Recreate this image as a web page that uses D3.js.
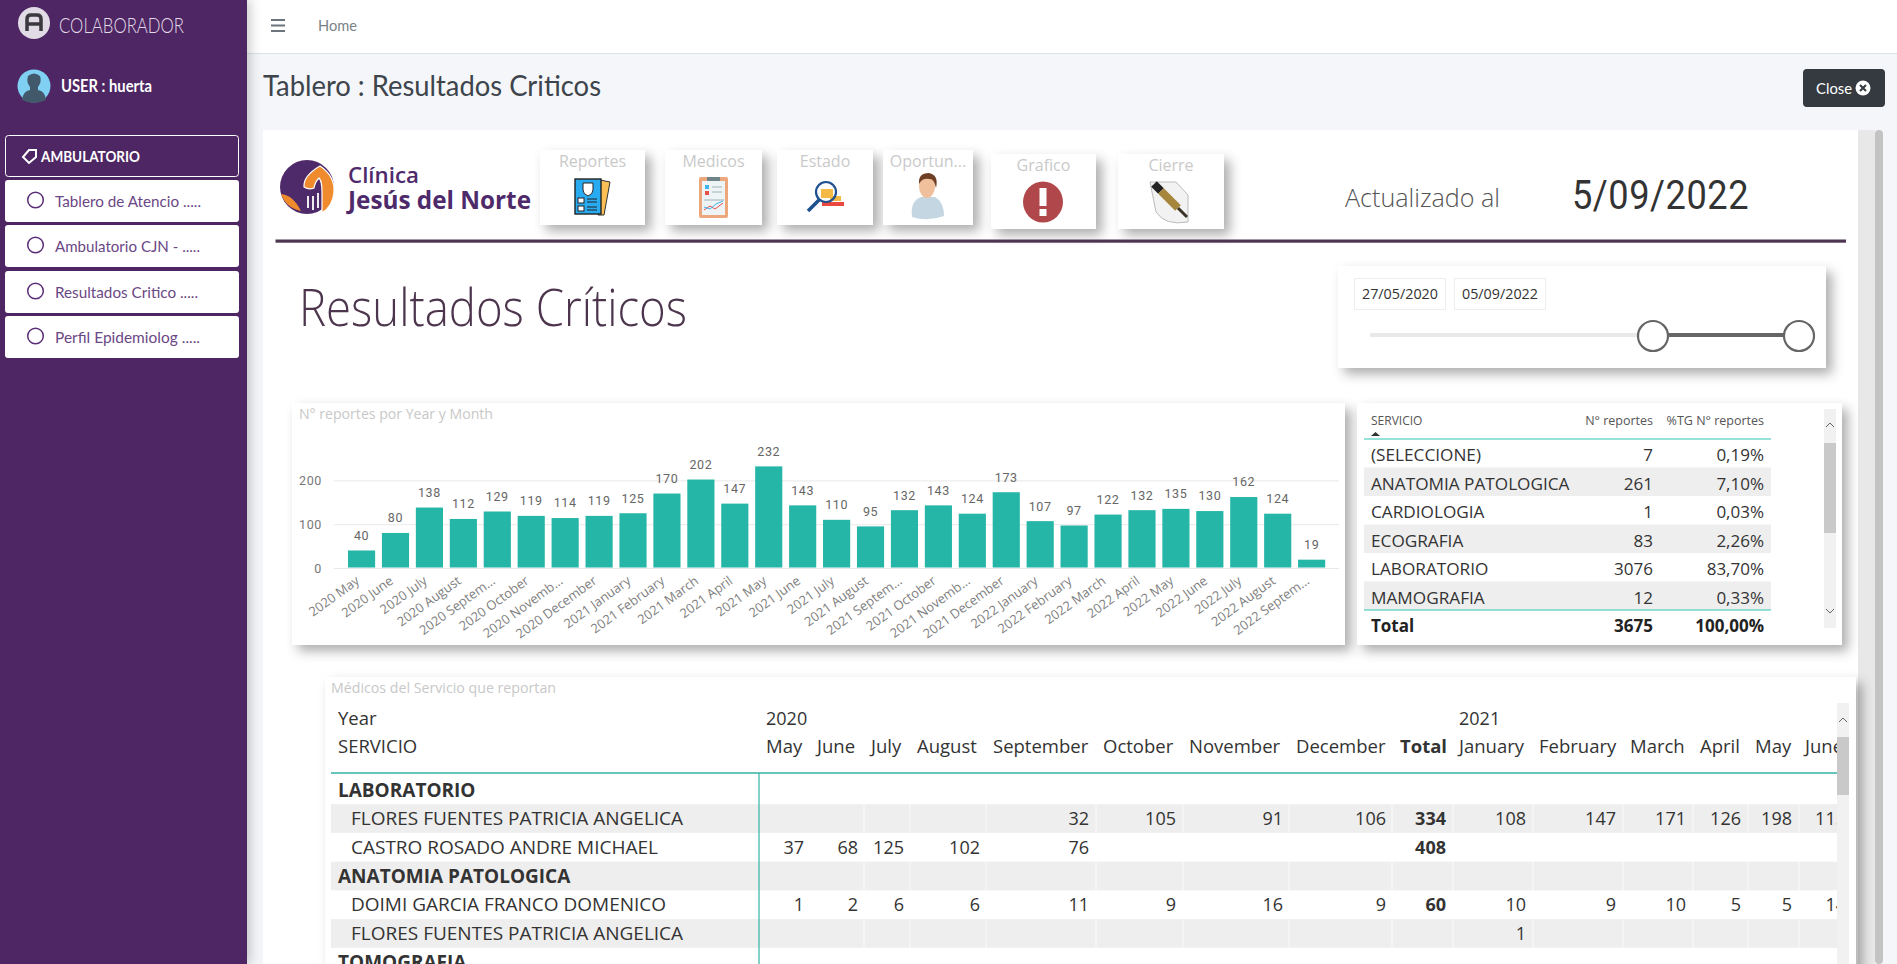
<!DOCTYPE html>
<html>
<head>
<meta charset="utf-8">
<title>Tablero : Resultados Criticos</title>
<script src="https://cdn.jsdelivr.net/npm/d3@7"></script>
<style>
    html, body { margin: 0; padding: 0; background: #f4f6f9; overflow: hidden; }
    svg { display: block; }
    text { font-family: "Open Sans", sans-serif; }
    .side { font-family: Lato, sans-serif; }
    .din { font-family: Roboto, sans-serif; letter-spacing: 0.6px; }
    .axis-y path, .axis-x path, .axis-x line, .axis-y line { stroke: #e9e9e9; }
    .axis-x line { display: none; }
</style>
</head>
<body>
<svg id="page" width="1897" height="964"></svg>
<script>
// bar chart
let monthLabels = ["2020 May", "2020 June", "2020 July", "2020 August", "2020 Septem...", "2020 October",
    "2020 Novemb...", "2020 December", "2021 January", "2021 February", "2021 March", "2021 April",
    "2021 May", "2021 June", "2021 July", "2021 August", "2021 Septem...", "2021 October",
    "2021 Novemb...", "2021 December", "2022 January", "2022 February", "2022 March", "2022 April",
    "2022 May", "2022 June", "2022 July", "2022 August", "2022 Septem..."];
let monthReports = [40, 80, 138, 112, 129, 119, 114, 119, 125, 170, 202, 147, 232, 143, 110, 95, 132, 143,
    124, 173, 107, 97, 122, 132, 135, 130, 162, 124, 19];
let yTicks = [0, 100, 200];

// service table
let services = ["(SELECCIONE)", "ANATOMIA PATOLOGICA", "CARDIOLOGIA", "ECOGRAFIA", "LABORATORIO", "MAMOGRAFIA"];
let serviceReports = [7, 261, 1, 83, 3076, 12];
let servicePercent = ["0,19%", "7,10%", "0,03%", "2,26%", "83,70%", "0,33%"];
let serviceTotal = [3675, "100,00%"];

// matrix
let matrixMonths = ["May", "June", "July", "August", "September", "October", "November", "December", "Total",
    "January", "February", "March", "April", "May", "June"];
let matrixRowNames = ["LABORATORIO", "FLORES FUENTES PATRICIA ANGELICA", "CASTRO ROSADO ANDRE MICHAEL",
    "ANATOMIA PATOLOGICA", "DOIMI GARCIA FRANCO DOMENICO", "FLORES FUENTES PATRICIA ANGELICA", "TOMOGRAFIA"];
let matrixRowGroup = [true, false, false, true, false, false, true];
let matrixCells = [
    [],
    [null, null, null, null, 32, 105, 91, 106, 334, 108, 147, 171, 126, 198, 115],
    [37, 68, 125, 102, 76, null, null, null, 408],
    [],
    [1, 2, 6, 6, 11, 9, 16, 9, 60, 10, 9, 10, 5, 5, 14],
    [null, null, null, null, null, null, null, null, null, 1],
    []
];

let menuItems = ["Tablero de Atencio .....", "Ambulatorio CJN - .....", "Resultados Critico .....", "Perfil Epidemiolog ....."];

let purple = "#4e2564";
let plum = "#4d364d";
let teal = "#25b6a7";

let svg = d3.select("#page");

function label(parent, x, y, str, size, color, extra) {
    let t = parent.append("text")
        .attr("x", x)
        .attr("y", y)
        .attr("dy", "0.35em")
        .attr("font-size", size)
        .attr("fill", color)
        .text(str);
    extra = extra || {};
    if (extra.anchor) t.attr("text-anchor", extra.anchor);
    if (extra.weight) t.attr("font-weight", extra.weight);
    if (extra.cls) t.attr("class", extra.cls);
    if (extra.len) t.attr("textLength", extra.len).attr("lengthAdjust", "spacingAndGlyphs");
    return t;
}

function box(parent, x, y, w, h, fill, shadow) {
    let r = parent.append("rect")
        .attr("x", x).attr("y", y)
        .attr("width", w).attr("height", h)
        .attr("fill", fill);
    if (shadow) r.attr("filter", "url(#" + shadow + ")");
    return r;
}

function defs() {
    let d = svg.append("defs");
    let big = d.append("filter").attr("id", "shadow")
        .attr("x", "-30%").attr("y", "-30%").attr("width", "170%").attr("height", "170%");
    big.append("feDropShadow").attr("dx", 6).attr("dy", 6).attr("stdDeviation", 6)
        .attr("flood-color", "#000").attr("flood-opacity", 0.32);
    let side = d.append("filter").attr("id", "sideShadow")
        .attr("x", "-10%").attr("y", "0").attr("width", "130%").attr("height", "100%");
    side.append("feDropShadow").attr("dx", 3).attr("dy", 0).attr("stdDeviation", 6)
        .attr("flood-color", "#000").attr("flood-opacity", 0.22);
    d.append("clipPath").attr("id", "matrixClip")
        .append("rect").attr("x", 331).attr("y", 700).attr("width", 1506).attr("height", 264);
}

function renderSidebar() {
    box(svg, 0, 0, 247, 964, purple, "sideShadow");
    svg.append("circle").attr("cx", 34).attr("cy", 23).attr("r", 16).attr("fill", "#e0dbe4");
    svg.append("path")
        .attr("d", "M27 31 V19 Q27 15 31 15 H37 Q41 15 41 19 V31 M27 24 H41")
        .attr("fill", "none").attr("stroke", "#3a3a3e").attr("stroke-width", 3.5);
    label(svg, 59, 25, "COLABORADOR", 22, "#e3dce8", {cls: "side", weight: 300, len: 125});

    svg.append("circle").attr("cx", 34).attr("cy", 86).attr("r", 16.5).attr("fill", "#7fd0f2");
    svg.append("path")
        .attr("d", "M22 100 Q23 91 30 90 L30 87 Q26 82 28 76 Q34 71 40 76 Q42 82 38 87 L38 90 Q45 91 46 100 Q34 106 22 100 Z")
        .attr("fill", "#42596c");
    label(svg, 61, 86.5, "USER : huerta", 16.5, "#ffffff", {cls: "side", weight: 700, len: 91});

    svg.append("rect").attr("x", 5.5).attr("y", 135.5).attr("width", 233).attr("height", 41).attr("rx", 3)
        .attr("fill", "none").attr("stroke", "#ffffff");
    svg.append("path").attr("d", "M23 157 L29 150 H36 V157 L29 163 Z")
        .attr("fill", "none").attr("stroke", "#ffffff").attr("stroke-width", 2);
    label(svg, 41, 156, "AMBULATORIO", 16, "#ffffff", {cls: "side", weight: 700, len: 99});

    let itemY = d3.scaleOrdinal().domain(menuItems).range([180, 225, 271, 316]);
    let itemEnd = d3.scaleOrdinal().domain(menuItems).range([146, 145, 143, 145]);
    let items = svg.append("g").selectAll("g").data(menuItems).enter().append("g");
    items.append("rect")
        .attr("x", 5).attr("width", 234).attr("height", 42).attr("rx", 3)
        .attr("y", function (d) { return itemY(d); })
        .attr("fill", "#ffffff");
    items.append("circle")
        .attr("cx", 35.5).attr("r", 7.8)
        .attr("cy", function (d) { return itemY(d) + 20; })
        .attr("fill", "none").attr("stroke", "#5b2f78").attr("stroke-width", 1.5);
    items.each(function (d) {
        label(d3.select(this), 55, itemY(d) + 21, d, 16, "#6b4785", {cls: "side", len: itemEnd(d)});
    });
}

function renderHeader() {
    box(svg, 247, 0, 1650, 53, "#ffffff");
    svg.append("line").attr("x1", 247).attr("x2", 1897).attr("y1", 53.5).attr("y2", 53.5).attr("stroke", "#dee2e6");
    svg.append("path").attr("d", "M271 20 H285 M271 25.5 H285 M271 31 H285")
        .attr("stroke", "#6c757d").attr("stroke-width", 2);
    label(svg, 318, 25.5, "Home", 15, "#7a8288", {cls: "side", len: 39});
    label(svg, 263, 86.5, "Tablero : Resultados Criticos", 28, "#3d444b", {cls: "side", len: 338});

    svg.append("rect").attr("x", 1803).attr("y", 69).attr("width", 82).attr("height", 38).attr("rx", 4).attr("fill", "#343a40");
    label(svg, 1816, 88, "Close", 16, "#ffffff", {cls: "side", len: 36});
    svg.append("circle").attr("cx", 1863).attr("cy", 88).attr("r", 7.5).attr("fill", "#ffffff");
    svg.append("path").attr("d", "M1860 85 L1866 91 M1866 85 L1860 91").attr("stroke", "#343a40").attr("stroke-width", 2);

    box(svg, 263, 130, 1595, 834, "#ffffff");
    box(svg, 1858, 130, 17, 834, "#e8e8e8");
    svg.append("rect").attr("x", 1875).attr("y", 130).attr("width", 8).attr("height", 834).attr("rx", 4).attr("fill", "#c3c3c3");
}

function renderLogo() {
    svg.append("circle").attr("cx", 307).attr("cy", 187).attr("r", 27).attr("fill", "#4e2a6b");
    svg.append("path")
        .attr("d", "M304 187 Q303 176 320 166 Q335 176 334 192 Q333 206 322 213 L322 192 Q322 181 319 178 Q315 182 314 188 Q309 190 304 187 Z")
        .attr("fill", "#ef8a2d").attr("stroke", "#ffffff").attr("stroke-width", 1.2);
    svg.append("path")
        .attr("d", "M281 194 Q293 195 301 211 Q286 208 281 194 Z")
        .attr("fill", "#ef8a2d");
    svg.append("path").attr("d", "M308 196 V208 M313 196 V210 M318 193 V208")
        .attr("stroke", "#ffffff").attr("stroke-width", 1.8);
    label(svg, 348, 175, "Clínica", 22, "#4e2a6b", {weight: 600, len: 71});
    label(svg, 348, 200, "Jesús del Norte", 25, "#4e2a6b", {weight: 700, len: 183});
}

function renderButtons() {
    let names = ["Reportes", "Medicos", "Estado", "Oportun...", "Grafico", "Cierre"];
    let left = d3.scaleOrdinal().domain(names).range([540, 665, 777, 883, 991, 1118]);
    let right = d3.scaleOrdinal().domain(names).range([645, 762, 873, 973, 1096, 1224]);
    let top = d3.scaleOrdinal().domain(names).range([150, 150, 150, 150, 154, 154]);
    names.forEach(function (n) {
        box(svg, left(n), top(n), right(n) - left(n), 75, "#ffffff", "shadow");
        label(svg, (left(n) + right(n)) / 2, top(n) + 11, n, 16, "#c9c9c9", {anchor: "middle"});
    });

    // reportes icon
    svg.append("path").attr("d", "M600 180 L610 182 L604 215 H598 Z").attr("fill", "#fbbf56").attr("stroke", "#333");
    svg.append("rect").attr("x", 575).attr("y", 179).attr("width", 26).attr("height", 35).attr("fill", "#29abf2").attr("stroke", "#222").attr("stroke-width", 1.4);
    svg.append("path").attr("d", "M583 183 H593 V190 Q593 194 588 196 Q583 194 583 190 Z").attr("fill", "#fff").attr("stroke", "#222");
    svg.append("rect").attr("x", 578).attr("y", 198).attr("width", 6).attr("height", 5).attr("fill", "#fff").attr("stroke", "#222");
    svg.append("rect").attr("x", 578).attr("y", 206).attr("width", 6).attr("height", 5).attr("fill", "#fff").attr("stroke", "#222");
    svg.append("path").attr("d", "M587 199 H597 M587 202 H597 M587 207 H597 M587 210 H597").attr("stroke", "#222").attr("stroke-width", 1.2);

    // medicos icon
    svg.append("rect").attr("x", 699).attr("y", 177).attr("width", 29).attr("height", 41).attr("rx", 2).attr("fill", "#eda77c");
    svg.append("rect").attr("x", 702).attr("y", 181).attr("width", 23).attr("height", 34).attr("fill", "#eef4f5");
    svg.append("rect").attr("x", 707).attr("y", 177).attr("width", 13).attr("height", 4).attr("fill", "#6f8489");
    svg.append("rect").attr("x", 705).attr("y", 185).attr("width", 4).attr("height", 4).attr("fill", "#40b6ee");
    svg.append("rect").attr("x", 705).attr("y", 191).attr("width", 4).attr("height", 4).attr("fill", "#e8504c");
    svg.append("path").attr("d", "M712 187 H722 M712 192 H722 M704 200 H724").attr("stroke", "#9fb4ba");
    svg.append("path").attr("d", "M704 210 L710 206 L715 209 L723 203").attr("fill", "none").attr("stroke", "#e8504c");
    svg.append("path").attr("d", "M704 207 L710 209 L716 204 L723 201").attr("fill", "none").attr("stroke", "#40b6ee");

    // estado icon
    svg.append("rect").attr("x", 821).attr("y", 189).attr("width", 12).attr("height", 9).attr("fill", "#f5b945");
    svg.append("rect").attr("x", 822).attr("y", 202).attr("width", 22).attr("height", 4).attr("fill", "#e9493f");
    svg.append("rect").attr("x", 830).attr("y", 196).attr("width", 11).attr("height", 5).attr("fill", "#f5b945");
    svg.append("circle").attr("cx", 826).attr("cy", 192).attr("r", 10).attr("fill", "none").attr("stroke", "#1e4f8f").attr("stroke-width", 2.2);
    svg.append("line").attr("x1", 819).attr("y1", 200).attr("x2", 808).attr("y2", 211).attr("stroke", "#1e4f8f").attr("stroke-width", 3.6);

    // oportunidad icon
    svg.append("path").attr("d", "M912 217 Q910 201 921 197 L935 197 Q944 202 944 216 Q928 222 912 217 Z").attr("fill", "#c3d6e2");
    svg.append("ellipse").attr("cx", 927).attr("cy", 186).attr("rx", 8).attr("ry", 12).attr("fill", "#f0c09c");
    svg.append("path").attr("d", "M919 184 Q918 173 929 173 Q939 175 936 188 Q934 178 929 179 Q922 178 919 184 Z").attr("fill", "#6e3f24");

    // grafico icon
    svg.append("ellipse").attr("cx", 1043).attr("cy", 202).attr("rx", 20).attr("ry", 20.5).attr("fill", "#b0474a");
    svg.append("rect").attr("x", 1039.5).attr("y", 188).attr("width", 7).attr("height", 18).attr("fill", "#ffffff");
    svg.append("rect").attr("x", 1039.5).attr("y", 209).attr("width", 7).attr("height", 7).attr("fill", "#ffffff");

    // cierre icon
    svg.append("path").attr("d", "M1150 182 H1176 L1188 195 V222 Q1165 226 1156 212 Z").attr("fill", "#f2f2f2").attr("stroke", "#bbbbbb");
    svg.append("path").attr("d", "M1154 184 L1161 191").attr("stroke", "#222222").attr("stroke-width", 8);
    svg.append("path").attr("d", "M1161 191 L1178 208").attr("stroke", "#a5863c").attr("stroke-width", 8);
    svg.append("path").attr("d", "M1178 208 L1187 217").attr("stroke", "#3b3323").attr("stroke-width", 3);

    svg.append("rect").attr("x", 275.5).attr("y", 239.5).attr("width", 1570.5).attr("height", 3.2).attr("fill", "#4d3650");
    label(svg, 1345, 198, "Actualizado al", 25, "#555555", {weight: 300, len: 155});
    label(svg, 1572, 195, "5/09/2022", 41, "#333333", {cls: "din", len: 177});
}

function renderTitle() {
    label(svg, 299, 308, "Resultados Críticos", 51, plum, {weight: 300, len: 388});
}

function renderSlicer() {
    box(svg, 1338, 266, 488, 102, "#ffffff", "shadow");
    let dates = ["27/05/2020", "05/09/2022"];
    let dateX = d3.scaleOrdinal().domain(dates).range([1354, 1454]);
    dates.forEach(function (d) {
        svg.append("rect").attr("x", dateX(d) + 0.5).attr("y", 278.5).attr("width", 91).attr("height", 31)
            .attr("fill", "#ffffff").attr("stroke", "#eeeeee");
        label(svg, dateX(d) + 46, 294, d, 15, "#333333", {anchor: "middle", len: 76});
    });
    svg.append("line").attr("x1", 1370).attr("x2", 1653).attr("y1", 335).attr("y2", 335).attr("stroke", "#e9e9e9").attr("stroke-width", 4);
    svg.append("line").attr("x1", 1653).attr("x2", 1799).attr("y1", 335).attr("y2", 335).attr("stroke", "#666666").attr("stroke-width", 4);
    [1653, 1799].forEach(function (cx) {
        svg.append("circle").attr("cx", cx).attr("cy", 336).attr("r", 15)
            .attr("fill", "#ffffff").attr("stroke", "#666666").attr("stroke-width", 2.2);
    });
}

function renderBarChart() {
    box(svg, 292, 403, 1053, 242, "#ffffff", "shadow");
    label(svg, 299, 414, "N° reportes por Year y Month", 14, "#c8c8c8", {len: 194});

    let x = d3.scaleBand()
        .domain(monthLabels)
        .range([344.6, 1328.6])
        .paddingInner(0.2)
        .paddingOuter(0.1);
    let y = d3.scaleLinear()
        .domain([0, 200])
        .range([568, 480.4]);

    let yAxis = svg.append("g")
        .attr("class", "axis-y")
        .attr("transform", "translate(334,0)")
        .call(d3.axisLeft(y).tickValues(yTicks).tickSize(-1005).tickPadding(12));
    yAxis.select(".domain").remove();
    yAxis.selectAll("text").attr("class", "din").attr("font-size", 12.5).attr("fill", "#777777");

    let xAxis = svg.append("g")
        .attr("class", "axis-x")
        .attr("transform", "translate(0,568)")
        .call(d3.axisBottom(x).tickSize(0));
    xAxis.select(".domain").remove();
    xAxis.selectAll("text")
        .attr("x", 0).attr("y", 0).attr("dy", "0.35em")
        .attr("transform", "translate(-4,11) rotate(-36)")
        .style("text-anchor", "end")
        .attr("font-size", 13)
        .attr("fill", "#808080");

    svg.append("g").selectAll("rect").data(monthReports).enter().append("rect")
        .attr("x", function (d, i) { return x(monthLabels[i]); })
        .attr("y", function (d) { return y(d); })
        .attr("width", x.bandwidth())
        .attr("height", function (d) { return y(0) - y(d) - 0.5; })
        .attr("fill", teal);

    svg.append("g").selectAll("text").data(monthReports).enter().append("text")
        .attr("class", "din")
        .attr("x", function (d, i) { return x(monthLabels[i]) + x.bandwidth() / 2; })
        .attr("y", function (d) { return y(d) - 15; })
        .attr("dy", "0.35em")
        .attr("text-anchor", "middle")
        .attr("font-size", 12.5)
        .attr("fill", "#666666")
        .text(function (d) { return d; });
}

function renderServiceTable() {
    box(svg, 1357, 403, 485, 242, "#ffffff", "shadow");
    label(svg, 1371, 421, "SERVICIO", 12, "#555555");
    label(svg, 1653, 421, "N° reportes", 12.5, "#555555", {anchor: "end"});
    label(svg, 1764, 421, "%TG N° reportes", 12.5, "#555555", {anchor: "end"});
    svg.append("path").attr("d", "M1371 436 L1375.5 432 L1380 436 Z").attr("fill", "#333333");

    let rowY = d3.scaleBand().domain(services).range([439, 610]);
    let rows = svg.append("g").selectAll("g").data(services).enter().append("g");
    rows.append("rect")
        .attr("x", 1364).attr("width", 407)
        .attr("y", function (d) { return rowY(d); })
        .attr("height", rowY.bandwidth())
        .attr("fill", function (d, i) { return i % 2 ? "#eeeeee" : "#ffffff"; });
    rows.each(function (d, i) {
        let g = d3.select(this);
        let cy = rowY(d) + rowY.bandwidth() / 2 + 2;
        label(g, 1371, cy, d, 17.2, "#333333");
        label(g, 1653, cy, serviceReports[i], 17, "#333333", {anchor: "end"});
        label(g, 1764, cy, servicePercent[i], 17, "#333333", {anchor: "end"});
    });

    svg.append("line").attr("x1", 1364).attr("x2", 1771).attr("y1", 439).attr("y2", 439).attr("stroke", "#2fc4b2").attr("stroke-width", 1.2);
    svg.append("line").attr("x1", 1364).attr("x2", 1771).attr("y1", 610).attr("y2", 610).attr("stroke", "#2fc4b2").attr("stroke-width", 1.2);
    label(svg, 1371, 626, "Total", 17, "#222222", {weight: 700});
    label(svg, 1653, 626, serviceTotal[0], 17, "#222222", {anchor: "end", weight: 700});
    label(svg, 1764, 626, serviceTotal[1], 17, "#222222", {anchor: "end", weight: 700});

    box(svg, 1824, 409, 12, 219, "#f1f1f1");
    box(svg, 1824, 443, 12, 90, "#c9c9c9");
    svg.append("path").attr("d", "M1826 427 L1830 423 L1834 427 M1826 609 L1830 613 L1834 609")
        .attr("fill", "none").attr("stroke", "#666666");
}

function renderMatrix() {
    box(svg, 325, 677, 1531, 300, "#ffffff", "shadow");
    label(svg, 331, 688, "Médicos del Servicio que reportan", 14, "#c8c8c8", {len: 225});

    let cols = d3.range(matrixMonths.length);
    let colRight = d3.scaleOrdinal().domain(cols)
        .range([804, 858, 904, 980, 1089, 1176, 1283, 1386, 1446, 1526, 1616, 1686, 1741, 1792, 1846]);
    let colLeft = d3.scaleOrdinal().domain(cols)
        .range([766, 817, 871, 917, 993, 1103, 1189, 1296, 1400, 1459, 1539, 1630, 1700, 1755, 1805]);
    let dividers = [864, 910, 986, 1096, 1183, 1289, 1392, 1453, 1533, 1623, 1693, 1748, 1799];
    let rowY = d3.scaleBand().domain(d3.range(matrixRowNames.length)).range([775.5, 976.5]);

    label(svg, 338, 719, "Year", 18.5, "#333333");
    label(svg, 338, 747, "SERVICIO", 18.5, "#333333");

    let body = svg.append("g").attr("clip-path", "url(#matrixClip)");
    label(body, 766, 719, "2020", 18, "#333333");
    label(body, 1459, 719, "2021", 18, "#333333");
    cols.forEach(function (c) {
        label(body, colLeft(c), 747, matrixMonths[c], 18.5, "#333333", {weight: matrixMonths[c] === "Total" ? 700 : null});
    });

    matrixRowNames.forEach(function (name, r) {
        if (r % 2) box(body, 331, rowY(r), 1506, rowY.bandwidth(), "#eeeeee");
        let cy = rowY(r) + rowY.bandwidth() / 2;
        label(body, matrixRowGroup[r] ? 338 : 351, cy, name, 19, "#333333", {weight: matrixRowGroup[r] ? 700 : null});
        matrixCells[r].forEach(function (v, c) {
            if (v === null) return;
            label(body, colRight(c), cy, v, 18, "#333333", {anchor: "end", weight: matrixMonths[c] === "Total" ? 700 : null});
        });
    });

    body.append("g").selectAll("line").data(dividers).enter().append("line")
        .attr("x1", function (d) { return d; })
        .attr("x2", function (d) { return d; })
        .attr("y1", 773).attr("y2", 964)
        .attr("stroke", "#ffffff").attr("stroke-opacity", 0.7);

    svg.append("line").attr("x1", 331).attr("x2", 1837).attr("y1", 773).attr("y2", 773).attr("stroke", "#35b3a2").attr("stroke-width", 1.4);
    svg.append("line").attr("x1", 759).attr("x2", 759).attr("y1", 773).attr("y2", 964).attr("stroke", "#35b3a2").attr("stroke-width", 1.2);

    box(svg, 1837, 703, 12, 261, "#f1f1f1");
    box(svg, 1837, 737, 12, 58, "#c9c9c9");
    svg.append("path").attr("d", "M1839 722 L1843 718 L1847 722").attr("fill", "none").attr("stroke", "#666666");
}

defs();
renderHeader();
renderSidebar();
renderLogo();
renderButtons();
renderTitle();
renderSlicer();
renderBarChart();
renderServiceTable();
renderMatrix();
</script>
</body>
</html>
